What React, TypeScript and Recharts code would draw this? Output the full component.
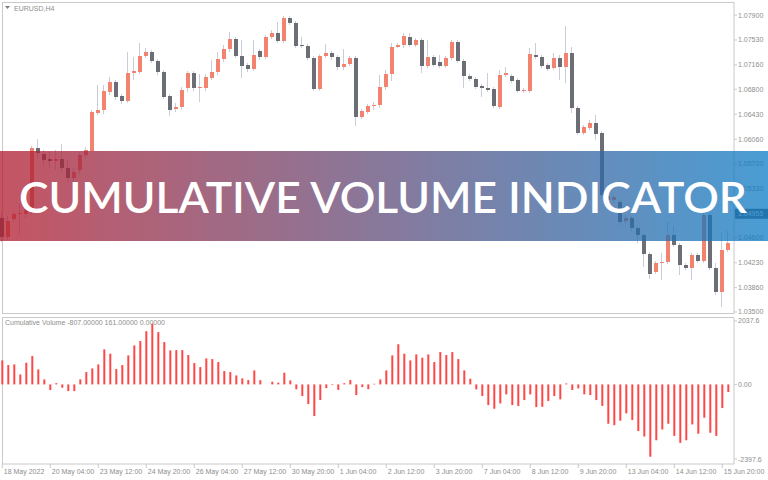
import React from 'react';
import { ComposedChart, BarChart, Bar, XAxis, YAxis } from 'recharts';

const opens = [1.04893,1.04611,1.04878,1.04952,1.04952,1.04982,1.05930,1.05841,1.05767,1.05737,1.05767,1.05633,1.05485,1.05604,1.05826,1.05885,1.06448,1.06493,1.06759,1.06907,1.06700,1.06626,1.07041,1.07056,1.07293,1.07352,1.07219,1.07056,1.06700,1.06507,1.06537,1.06819,1.07041,1.06819,1.06819,1.06967,1.07056,1.07248,1.07396,1.07544,1.07293,1.07159,1.07100,1.07367,1.07278,1.07574,1.07633,1.07515,1.07856,1.07781,1.07456,1.07441,1.07263,1.06804,1.07293,1.07337,1.07278,1.07130,1.07174,1.07263,1.06389,1.06463,1.06567,1.06567,1.06833,1.07026,1.07426,1.07456,1.07574,1.07456,1.07530,1.07144,1.07278,1.07204,1.07144,1.07263,1.07500,1.07219,1.06996,1.06952,1.06848,1.06819,1.06804,1.06537,1.07011,1.06996,1.06937,1.06774,1.06774,1.07307,1.07278,1.07159,1.07115,1.07263,1.07130,1.07337,1.06522,1.06152,1.06226,1.06300,1.06152,1.05219,1.05159,1.05130,1.04848,1.04893,1.04744,1.04641,1.04359,1.04093,1.04226,1.04241,1.04641,1.04493,1.04196,1.04152,1.04344,1.04256,1.04937,1.04152,1.03796,1.04419];
const highs = [1.04982,1.04922,1.04996,1.05115,1.05159,1.05959,1.06063,1.05900,1.05870,1.05900,1.05989,1.05752,1.05633,1.05870,1.05944,1.06493,1.06863,1.06863,1.06981,1.06937,1.06730,1.07352,1.07278,1.07485,1.07411,1.07381,1.07248,1.07085,1.06730,1.06596,1.06833,1.07070,1.07070,1.07026,1.07026,1.07233,1.07352,1.07456,1.07648,1.07574,1.07530,1.07189,1.07530,1.07396,1.07604,1.07678,1.07796,1.07885,1.07885,1.07811,1.07574,1.07470,1.07293,1.07322,1.07470,1.07367,1.07307,1.07396,1.07293,1.07293,1.06507,1.06581,1.06611,1.07011,1.07085,1.07485,1.07485,1.07633,1.07633,1.07559,1.07559,1.07530,1.07307,1.07307,1.07293,1.07530,1.07530,1.07248,1.07026,1.06981,1.06878,1.07041,1.06833,1.07085,1.07130,1.07026,1.06967,1.06819,1.07411,1.07485,1.07307,1.07189,1.07337,1.07307,1.07737,1.07426,1.06552,1.06270,1.06344,1.06419,1.06181,1.05248,1.05233,1.05159,1.04937,1.04922,1.04774,1.04670,1.04389,1.04256,1.04374,1.04833,1.04774,1.04522,1.04226,1.04374,1.04374,1.04967,1.04967,1.04226,1.04685,1.04700];
const lows = [1.04537,1.04567,1.04833,1.04641,1.04893,1.04937,1.05781,1.05678,1.05633,1.05604,1.05574,1.05426,1.05426,1.05544,1.05781,1.05856,1.06419,1.06433,1.06715,1.06641,1.06581,1.06596,1.06937,1.07026,1.07263,1.07189,1.07011,1.06656,1.06404,1.06463,1.06493,1.06759,1.06774,1.06611,1.06774,1.06937,1.07011,1.07204,1.07352,1.07263,1.06967,1.07056,1.07070,1.07233,1.07248,1.07544,1.07485,1.07485,1.07752,1.07411,1.07411,1.07233,1.06774,1.06774,1.07263,1.07233,1.07085,1.07085,1.07144,1.06256,1.06359,1.06433,1.06493,1.06522,1.06789,1.06922,1.07411,1.07411,1.07426,1.07426,1.07041,1.07115,1.07130,1.07115,1.07115,1.07233,1.07189,1.06819,1.06922,1.06804,1.06685,1.06759,1.06522,1.06507,1.06981,1.06893,1.06744,1.06744,1.06744,1.07248,1.07115,1.07070,1.07085,1.06937,1.06893,1.06448,1.06122,1.06122,1.06196,1.06048,1.05189,1.05115,1.05115,1.04789,1.04804,1.04700,1.04522,1.04167,1.03989,1.04063,1.03974,1.04211,1.04463,1.04048,1.04122,1.03974,1.04226,1.04226,1.04122,1.03752,1.03574,1.04389];
const closes = [1.04611,1.04848,1.04952,1.04967,1.05011,1.05930,1.05856,1.05752,1.05737,1.05767,1.05633,1.05485,1.05574,1.05826,1.05900,1.06463,1.06493,1.06774,1.06907,1.06685,1.06626,1.07041,1.07070,1.07293,1.07352,1.07219,1.07056,1.06685,1.06493,1.06537,1.06789,1.07041,1.06819,1.06833,1.06981,1.07056,1.07248,1.07396,1.07544,1.07293,1.07144,1.07100,1.07307,1.07278,1.07574,1.07633,1.07515,1.07856,1.07781,1.07441,1.07441,1.07263,1.06804,1.07293,1.07337,1.07278,1.07130,1.07174,1.07263,1.06389,1.06478,1.06552,1.06570,1.06833,1.07026,1.07426,1.07456,1.07589,1.07456,1.07530,1.07144,1.07278,1.07159,1.07144,1.07263,1.07500,1.07219,1.06996,1.06952,1.06833,1.06819,1.06789,1.06552,1.07011,1.07041,1.06922,1.06774,1.06789,1.07322,1.07278,1.07144,1.07100,1.07263,1.07130,1.07337,1.06522,1.06152,1.06241,1.06300,1.06137,1.05233,1.05159,1.05204,1.04833,1.04893,1.04744,1.04641,1.04359,1.04063,1.04226,1.04241,1.04641,1.04493,1.04196,1.04152,1.04344,1.04256,1.04937,1.04152,1.03796,1.04419,1.04522];
const cumVolume = [771,621,643,321,696,911,482,161,-182,40,-107,-214,-214,161,396,514,643,1125,986,493,621,932,1253,1393,1710,1950,1681,1360,1093,1103,1103,943,686,557,836,814,718,429,396,289,193,139,450,135,0,86,58,375,129,-155,-375,-632,-1018,-500,-118,-20,-177,38,139,-343,-86,-155,20,161,450,932,1290,986,771,964,857,964,718,1039,943,1039,814,450,182,-161,-375,-664,-782,-611,-321,-664,-696,-504,-321,-729,-718,-536,-375,-482,32,-182,-129,-321,-343,-504,-690,-1264,-1310,-1165,-932,-1146,-1500,-1675,-2325,-1795,-1450,-1264,-1655,-1880,-1795,-1286,-1586,-1071,-1554,-1655,-761,-246];

const priceTicks = [1.079, 1.0753, 1.0716, 1.068, 1.0643, 1.0606, 1.057, 1.0533, 1.04955, 1.046, 1.0423, 1.0386, 1.035];
const markedPrice = 1.04955;
const volTicks = [2037.6, 0, -2397.6];
const dateTicks = [0, 8, 16, 24, 32, 40, 48, 56, 64, 72, 80, 88, 96, 104, 112, 120];
const dateLabels = ['18 May 2022', '20 May 04:00', '23 May 12:00', '24 May 20:00', '26 May 04:00', '27 May 12:00', '30 May 20:00', '1 Jun 04:00', '2 Jun 12:00', '3 Jun 20:00', '7 Jun 04:00', '8 Jun 12:00', '9 Jun 20:00', '13 Jun 04:00', '14 Jun 12:00', '15 Jun 20:00'];

const candleData = opens.map((o, i) => ({ i, open: o, high: highs[i], low: lows[i], close: closes[i] }));
const volData = cumVolume.map((v, i) => ({ i, v }));

const BULL = '#f2836f';
const BEAR = '#6b6f75';
const WICK = '#c9ccd9';
const FONT = '"Liberation Sans", Arial, sans-serif';
const LABEL = '#8e8e8e';
const BORDER = '#c9c9c9';
const X_DOMAIN: [number, number] = [-0.05, 121.95];

const Candle = (props: any) => {
  const { x, y, width, height, payload } = props;
  if (x == null || y == null) return null;
  const top = Math.min(y, y + height);
  const h = Math.abs(height);
  const span = payload.high - payload.low || 1e-9;
  const yOf = (p: number) => top + ((payload.high - p) / span) * h;
  const yo = yOf(payload.open);
  const yc = yOf(payload.close);
  const bull = payload.close >= payload.open;
  const rx = Math.round(x + width / 2 - 2);
  const bTop = Math.round(Math.min(yo, yc));
  const bH = Math.max(1, Math.round(Math.abs(yo - yc)));
  return (
    <g>
      <line x1={rx + 1.5} x2={rx + 1.5} y1={top} y2={top + h} stroke={WICK} strokeWidth={1} />
      <rect x={rx} y={bTop} width={4} height={bH} fill={bull ? BULL : BEAR} />
    </g>
  );
};

const PriceTick = (props: any) => {
  const { x, y, payload } = props;
  const v = payload.value as number;
  const cur = Math.abs(v - markedPrice) < 1e-7;
  return (
    <g>
      {cur && <rect x={x - 3} y={y - 5} width={34} height={10} fill="#5d636d" />}
      <text x={x} y={y + 2.5} fontSize={7} fontFamily={FONT} fill={cur ? '#ffffff' : LABEL}>{v.toFixed(5)}</text>
    </g>
  );
};

const VolTick = (props: any) => {
  const { x, y, payload } = props;
  const v = payload.value as number;
  return (
    <text x={x} y={y + 2.5} fontSize={7} fontFamily={FONT} fill={LABEL}>{v === 0 ? '0.00' : String(v)}</text>
  );
};

const DateTick = (props: any) => {
  const { x, y, payload } = props;
  const k = dateTicks.indexOf(payload.value);
  return (
    <text x={x + 1.5} y={y + 4} fontSize={7} fontFamily={FONT} fill={LABEL} textAnchor="start">{dateLabels[k]}</text>
  );
};

export default function App() {
  return (
    <div style={{ position: 'absolute', left: 0, top: 0, width: 768, height: 480, background: '#ffffff', overflow: 'hidden' }}>
      <div style={{ position: 'absolute', left: 2, top: 2, width: 732, height: 312, borderLeft: `1px solid ${BORDER}`, borderTop: `1px solid ${BORDER}`, borderBottom: `1px solid ${BORDER}`, boxSizing: 'border-box' }} />
      <div style={{ position: 'absolute', left: 2, top: 317, width: 732, height: 147, borderLeft: `1px solid ${BORDER}`, borderTop: `1px solid ${BORDER}`, boxSizing: 'border-box' }} />
      <div style={{ position: 'absolute', left: 0, top: 0 }}>
        <ComposedChart width={768} height={316} data={candleData} margin={{ top: 2, right: 0, left: 2, bottom: 2 }}>
          <XAxis dataKey="i" type="number" domain={X_DOMAIN} hide />
          <YAxis
            orientation="right"
            width={34}
            domain={[1.0347, 1.08093]}
            ticks={priceTicks}
            interval={0}
            allowDataOverflow
            axisLine={{ stroke: BORDER }}
            tickLine={{ stroke: BORDER }}
            tickSize={3}
            tickMargin={1}
            tick={<PriceTick />}
          />
          <Bar dataKey={(d: any) => [d.low, d.high]} barSize={4} shape={<Candle />} isAnimationActive={false} />
        </ComposedChart>
      </div>
      <div style={{ position: 'absolute', left: 0, top: 316 }}>
        <BarChart width={768} height={164} data={volData} margin={{ top: 2, right: 0, left: 2, bottom: 0 }}>
          <XAxis
            dataKey="i"
            type="number"
            domain={X_DOMAIN}
            ticks={dateTicks}
            interval={0}
            height={16}
            axisLine={{ stroke: BORDER }}
            tickLine={{ stroke: BORDER }}
            tickSize={4}
            tickMargin={2}
            tick={<DateTick />}
          />
          <YAxis
            orientation="right"
            width={34}
            domain={[-2558, 2134]}
            ticks={volTicks}
            interval={0}
            allowDataOverflow
            axisLine={{ stroke: BORDER }}
            tickLine={{ stroke: BORDER }}
            tickSize={3}
            tickMargin={1}
            tick={<VolTick />}
          />
          <Bar dataKey="v" barSize={2} fill="#ff4747" isAnimationActive={false} />
        </BarChart>
      </div>
      <svg width={768} height={480} style={{ position: 'absolute', left: 0, top: 0, pointerEvents: 'none' }}>
        <defs>
          <linearGradient id="bannerGrad" x1="0" y1="0" x2="1" y2="0">
            <stop offset="0%" stopColor="#b21b2e" />
            <stop offset="100%" stopColor="#0c7cc6" />
          </linearGradient>
        </defs>
        <polygon points="5,6 10,6 7.5,9" fill="#808080" />
        <text x={14} y={10.5} fontSize={7} fontFamily={FONT} fill={LABEL}>EURUSD,H4</text>
        <text x={5} y={325} fontSize={7} fontFamily={FONT} fill={LABEL}>Cumulative Volume -807.00000 161.00000 0.00000</text>
        <rect x={0} y={151} width={768} height={90} fill="url(#bannerGrad)" fillOpacity={0.75} />
        <text x={19} y={212.5} fontSize={42} fontFamily="Lato, 'Open Sans', sans-serif" fontWeight={600} fill="#ffffff" textLength={728} lengthAdjust="spacingAndGlyphs">CUMULATIVE VOLUME INDICATOR</text>
      </svg>
    </div>
  );
}
